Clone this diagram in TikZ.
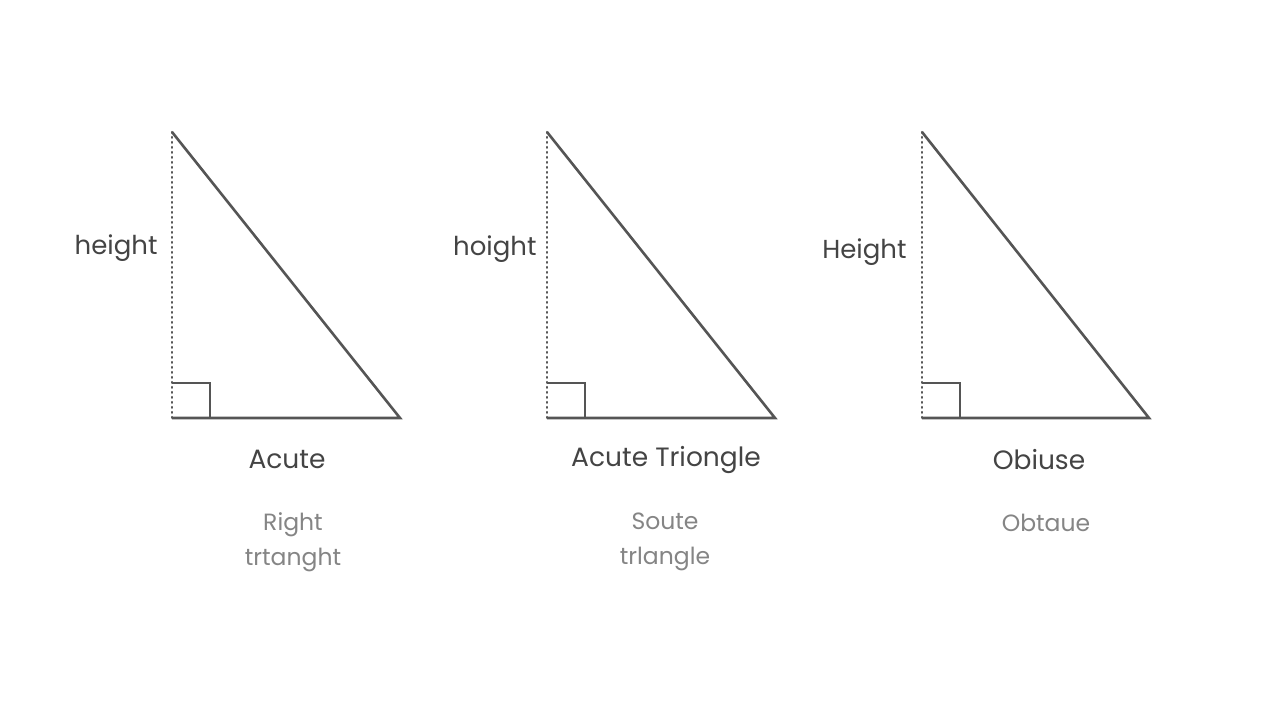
\documentclass[tikz,border=0pt]{standalone}
\usepackage{fontspec}
\setmainfont{Poppins}
\usepackage{tikz}
\usetikzlibrary{calc}

\definecolor{edgegray}{HTML}{555555}
\definecolor{namegray}{HTML}{444444}
\definecolor{subgray}{HTML}{858585}

\tikzset{
  side/.style={draw=edgegray, line width=2.6pt, line join=miter},
  heightline/.style={draw=edgegray, line width=2.4pt, line cap=round, dash pattern=on 0.8pt off 4.2pt},
  anglebox/.style={draw=edgegray, line width=1.8pt},
  heightlabel/.style={text=namegray, font=\fontsize{26}{28}\selectfont, anchor=east},
  namelabel/.style={text=namegray, font=\fontsize{26.5}{28}\selectfont},
  sublabel/.style={text=subgray, font=\fontsize{23.5}{35}\selectfont, align=center}
}

\begin{document}
\begin{tikzpicture}[x=1pt,y=-1pt]
\useasboundingbox (0,0) rectangle (1280,720);
\fill[white] (0,0) rectangle (1280,720);

% first triangle
\coordinate (topA) at (172,132);
\coordinate (footA) at (172,418);
\coordinate (endA) at (400,418);
\draw[heightline] (topA) -- (footA);
\draw[anglebox] ($(footA)+(0,-35)$) -| ($(footA)+(38,0)$);
\draw[side] (footA) -- (endA) -- (topA);
\node[heightlabel] (hA) at (161,248) {height};
\node[namelabel] (nA) at (287,459) {Acute};
\node[sublabel] (sA) at (293,542) {Right\\trtanght};

% second triangle
\coordinate (topB) at (547,132);
\coordinate (footB) at (547,418);
\coordinate (endB) at (775,418);
\draw[heightline] (topB) -- (footB);
\draw[anglebox] ($(footB)+(0,-35)$) -| ($(footB)+(38,0)$);
\draw[side] (footB) -- (endB) -- (topB);
\node[heightlabel] (hB) at (540,249) {hoight};
\node[namelabel] (nB) at (666,460) {Acute Triongle};
\node[sublabel] (sB) at (665,542) {Soute\\trlangle};

% third triangle
\coordinate (topC) at (922,132);
\coordinate (footC) at (922,418);
\coordinate (endC) at (1149,418);
\draw[heightline] (topC) -- (footC);
\draw[anglebox] ($(footC)+(0,-35)$) -| ($(footC)+(38,0)$);
\draw[side] (footC) -- (endC) -- (topC);
\node[heightlabel] (hC) at (910,252) {Height};
\node[namelabel] (nC) at (1039,460) {Obiuse};
\node[sublabel] (sC) at (1046,523) {Obtaue};
\end{tikzpicture}
\end{document}
